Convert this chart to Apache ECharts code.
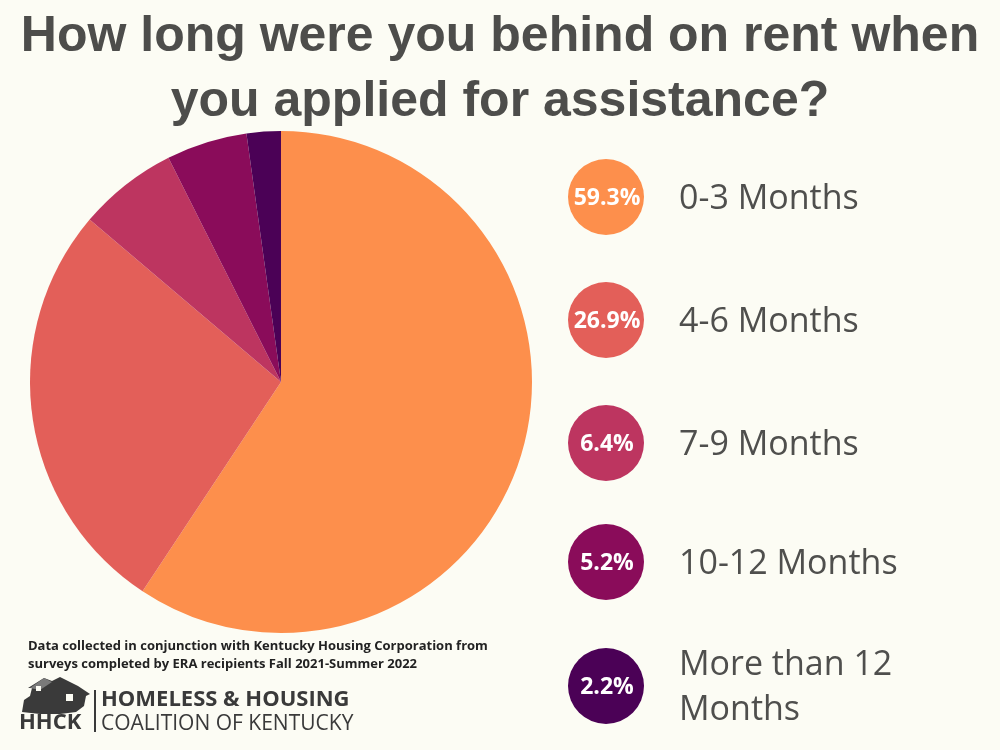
<!DOCTYPE html>
<html><head><meta charset="utf-8">
<script src="https://cdn.jsdelivr.net/npm/echarts@6/dist/echarts.min.js"></script>
<style>html,body{margin:0;padding:0;background:#fcfcf4;}#c{width:1000px;height:750px;}</style>
</head><body><div id="c"></div>
<script>
const categories = ['0-3 Months', '4-6 Months', '7-9 Months', '10-12 Months', 'More than 12\nMonths'];
const values = [59.3, 26.9, 6.4, 5.2, 2.2];
const colors = ['#fd8f4c', '#e35f59', '#bd3560', '#8a0c5a', '#4b0156'];
const legendY = [197, 320, 443, 562, 686];

const chart = echarts.init(document.getElementById('c'), null, {renderer: 'canvas'});
const graphics = [];
categories.forEach((c, i) => {
  graphics.push({
    type: 'circle', shape: {cx: 606, cy: legendY[i], r: 38},
    style: {fill: colors[i]}
  });
  graphics.push({
    type: 'text', x: 607, y: legendY[i] + 1,
    style: {text: values[i].toFixed(1) + '%', fill: '#ffffff', font: 'bold 23px "Open Sans"', align: 'center', verticalAlign: 'middle'}
  });
  graphics.push({
    type: 'text', x: 679, y: legendY[i] + 2,
    style: {text: c, fill: '#4f4f4d', font: '500 34px "Open Sans"', align: 'left', verticalAlign: 'middle', lineHeight: 45}
  });
});
// footnote
graphics.push({type: 'text', x: 28, y: 637, style: {text: 'Data collected in conjunction with Kentucky Housing Corporation from\nsurveys completed by ERA recipients Fall 2021-Summer 2022', fill: '#222222', font: 'bold 13px "Open Sans"', lineHeight: 18}});
// logo house
graphics.push({type: 'polygon', shape: {points: [[22,712],[24,700],[30,696],[32,688],[28,688],[44,678],[52,681],[60,677],[78,686],[90,694],[86,696],[84,706],[76,712],[60,714],[40,714]]}, style: {fill: '#3a3a3a'}});
graphics.push({type: 'polygon', shape: {points: [[30,688],[44,678],[52,682],[40,690]]}, style: {fill: '#7a7a7a'}});
graphics.push({type: 'rect', shape: {x: 66, y: 694, width: 7, height: 7}, style: {fill: '#fcfcf4'}});
graphics.push({type: 'rect', shape: {x: 36, y: 686, width: 5, height: 5}, style: {fill: '#fcfcf4'}});
graphics.push({type: 'text', x: 19, y: 723, style: {text: 'HHCK', fill: '#3a3a3a', font: 'bold 22px "Open Sans"', verticalAlign: 'middle'}});
graphics.push({type: 'rect', shape: {x: 94, y: 690, width: 2, height: 42}, style: {fill: '#3a3a3a'}});
graphics.push({type: 'text', x: 101, y: 700, style: {text: 'HOMELESS & HOUSING', fill: '#3a3a3a', font: 'bold 22px "Open Sans"', verticalAlign: 'middle'}});
graphics.push({type: 'text', x: 101, y: 724, style: {text: 'COALITION OF KENTUCKY', fill: '#3a3a3a', font: '21px "Open Sans"', verticalAlign: 'middle'}});

chart.setOption({
  backgroundColor: '#fcfcf4',
  title: {
    text: 'How long were you behind on rent when\nyou applied for assistance?',
    left: 'center', top: 0,
    textStyle: {fontFamily: 'Liberation Sans', fontWeight: 'bold', fontSize: 50, color: '#4d4d4b', lineHeight: 65}
  },
  series: [{
    type: 'pie',
    center: [281, 382],
    radius: [0, 251],
    startAngle: 90,
    clockwise: true,
    label: {show: false},
    labelLine: {show: false},
    silent: true,
    data: categories.map((c, i) => ({name: c, value: values[i], itemStyle: {color: colors[i]}}))
  }],
  graphic: graphics,
  animation: false
});
</script></body></html>
